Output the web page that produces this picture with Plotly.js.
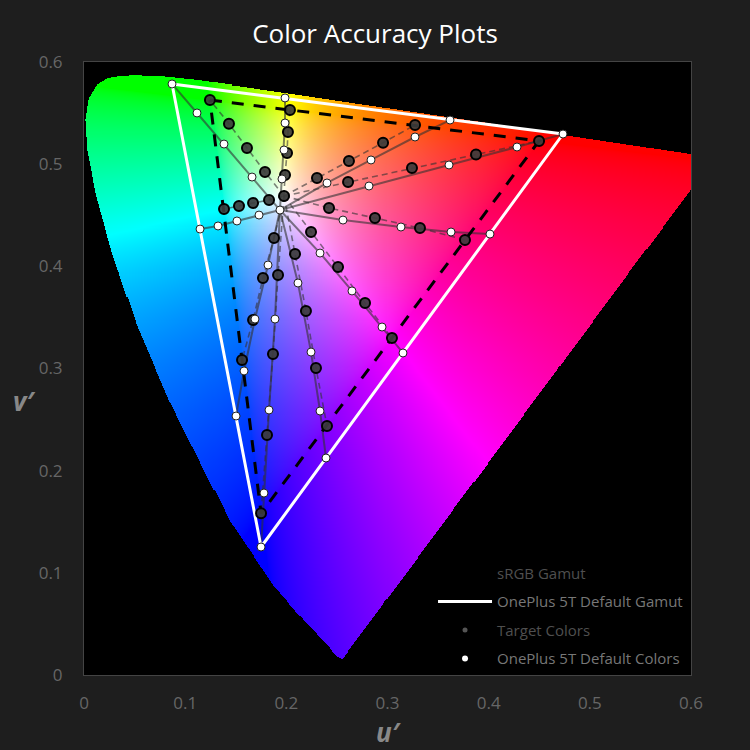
<!DOCTYPE html>
<html><head><meta charset="utf-8">
<script src="https://cdn.plot.ly/plotly-3.0.1.min.js"></script>
<style>html,body{margin:0;padding:0;background:#1e1e1e}#c{width:750px;height:750px}</style>
</head><body><div id="c"></div>
<script>
// Spokes, in order: green, yellow, orange, red, pink, magenta, violet, blue, azure, cyan
const targetWhite=[0.1977,0.4688];
const measuredWhite=[0.1937,0.4551];
const targetU=[
[.1789,.1611,.1433,.1245],[.1987,.2007,.2016,.2036],[.2303,.2619,.2956,.3272],[.2610,.3242,.3875,.4498],[.2422,.2876,.3321,.3766],
[.2244,.2511,.2778,.3044],[.2086,.2194,.2293,.2402],[.1918,.1868,.1809,.1750],[.1878,.1769,.1671,.1562],[.1829,.1671,.1532,.1384]];
const targetV=[
[.4923,.5158,.5396,.5628],[.4894,.5109,.5315,.5530],[.4865,.5031,.5210,.5383],[.4825,.4962,.5095,.5227],[.4571,.4473,.4375,.4258],
[.4336,.3993,.3641,.3298],[.4121,.3563,.3005,.2437],[.3915,.3142,.2349,.1583],[.4277,.3886,.3475,.3083],[.4649,.4620,.4590,.4561]];
const measuredU=[
[.1661,.1384,.1117,.0870],[.1957,.1977,.1987,.1987],[.2402,.2837,.3272,.3618],[.2817,.3608,.4280,.4735],[.2560,.3133,.3628,.4013],
[.2333,.2649,.2946,.3153],[.2115,.2244,.2333,.2392],[.1888,.1829,.1779,.1750],[.1819,.1690,.1582,.1503],[.1730,.1512,.1325,.1147]];
const measuredV=[
[.4874,.5197,.5501,.5785],[.4855,.5139,.5403,.5648],[.4816,.5041,.5266,.5432],[.4786,.4992,.5168,.5295],[.4453,.4385,.4336,.4316],
[.4130,.3759,.3406,.3152],[.3837,.3161,.2584,.2124],[.3484,.2594,.1781,.1253],[.4013,.3484,.2976,.2535],[.4502,.4444,.4395,.4365]];
const srgbU=[.1245,.4498,.1750,.1245];
const srgbV=[.5628,.5227,.1583,.5628];
const gamutU=[.0870,.4735,.1750,.0870];
const gamutV=[.5785,.5295,.1253,.5785];
// Spectral locus outline read as u', v'
const locusU=[.2557,.2522,.2461,.2347,.2161,.1877,.1441,.0828,.0521,.0282,.0119,.0035,.0014,.0046,.0123,.0231,.0360,.0501,.0792,.1127,.1531,.2026,.2623,.3315,.4035,.4692,.5203,.5565,.5830,.6005,.6234];
const locusV=[.0159,.0169,.0226,.0350,.0549,.0871,.1510,.2708,.3427,.4117,.4699,.5131,.5431,.5640,.5770,.5837,.5861,.5868,.5856,.5821,.5766,.5694,.5604,.5501,.5393,.5296,.5219,.5165,.5125,.5099,.5065];
const tickVals=[0,.1,.2,.3,.4,.5,.6];
const tickText=['0','0.1','0.2','0.3','0.4','0.5','0.6'];

function inside(u,v){let c=false;const n=locusU.length;for(let i=0,j=n-1;i<n;j=i++){
 if((locusV[i]>v)!==(locusV[j]>v)&&u<(locusU[j]-locusU[i])*(v-locusV[i])/(locusV[j]-locusV[i])+locusU[i])c=!c;}return c;}
function colour(u,v){const d=6*u-16*v+12,x=9*u/d,y=4*v/d,X=x/y,Z=(1-x-y)/y;
 let r=3.2406*X-1.5372-.4986*Z,g=-.9689*X+1.8758+.0415*Z,b=.0557*X-.2040+1.0570*Z;
 r=Math.max(r,0);g=Math.max(g,0);b=Math.max(b,0);const m=Math.max(r,g,b);
 const f=c=>Math.round(255*Math.pow(c/m,1/1.6));
 return [f(r),f(g),f(b),1];}
const step=.001,rows=[];
for(let j=0;j<600;j++){const row=[],v=(j+.5)*step;for(let i=0;i<600;i++){const u=(i+.5)*step;row.push(inside(u,v)?colour(u,v):[0,0,0,0]);}rows.push(row);}

const spokeColor='rgba(50,50,50,0.6)';
const traces=[{type:'image',z:rows,colormodel:'rgba',x0:step/2,y0:step/2,dx:step,dy:step,hoverinfo:'skip',showlegend:false}];
targetU.forEach((row,i)=>traces.push({type:'scatter',mode:'lines',x:[targetWhite[0],...row],y:[targetWhite[1],...targetV[i]],
 line:{color:spokeColor,width:1.6,dash:'6px,4px'},showlegend:false,hoverinfo:'skip'}));
measuredU.forEach((row,i)=>traces.push({type:'scatter',mode:'lines',x:[measuredWhite[0],...row],y:[measuredWhite[1],...measuredV[i]],
 line:{color:spokeColor,width:2},showlegend:false,hoverinfo:'skip'}));
traces.push({type:'scatter',mode:'lines',name:'<span style="color:#4f4f4f">sRGB Gamut</span>',x:srgbU,y:srgbV,line:{color:'#000',width:3,dash:'12px,10px'},legendgroup:'a'});
traces.push({type:'scatter',mode:'lines',name:'OnePlus 5T Default Gamut',x:gamutU,y:gamutV,line:{color:'#fff',width:3},legendgroup:'b'});
const mk=(a,w)=>a.flat().concat(w);
traces.push({type:'scatter',mode:'markers',x:mk(targetU,targetWhite[0]),y:mk(targetV,targetWhite[1]),showlegend:false,
 marker:{size:10,color:'rgba(60,60,60,0.92)',line:{color:'#000',width:2}}});
traces.push({type:'scatter',mode:'markers',x:mk(measuredU,measuredWhite[0]),y:mk(measuredV,measuredWhite[1]),showlegend:false,
 marker:{size:8,color:'#fff',line:{color:'#222',width:1}}});
traces.push({type:'scatter',mode:'markers',name:'<span style="color:#4f4f4f">Target Colors</span>',x:[null],y:[null],marker:{size:5,color:'#555'},legendgroup:'c'});
traces.push({type:'scatter',mode:'markers',name:'OnePlus 5T Default Colors',x:[null],y:[null],marker:{size:6,color:'#fff'},legendgroup:'d'});

const axis={range:[0,.6],tickmode:'array',tickvals:tickVals,ticktext:tickText,showgrid:false,zeroline:false,showline:true,mirror:true,
 linecolor:'#444',linewidth:1,ticks:'outside',tickcolor:'rgba(0,0,0,0)',tickfont:{family:'Open Sans',size:17,color:'#666'},autorange:false};
Plotly.newPlot('c',traces,{
 width:750,height:750,paper_bgcolor:'#1e1e1e',plot_bgcolor:'#000',
 margin:{l:84,r:59,t:62,b:75},
 title:{text:'Color Accuracy Plots',font:{family:'Open Sans',size:26,color:'#fff'},x:.5,xanchor:'center',y:.955,yanchor:'middle'},
 xaxis:{...axis,ticklen:13,title:{text:'<b><i>u′</i></b>',font:{family:'Open Sans',size:26,color:'#888'},standoff:12}},
 yaxis:{...axis,ticklen:17,scaleanchor:false},
 annotations:[{text:'<b><i>v′</i></b>',xref:'paper',yref:'paper',x:-.121,y:.447,showarrow:false,font:{family:'Open Sans',size:26,color:'#888'}}],
 legend:{x:.575,y:.193,xanchor:'left',yanchor:'top',bgcolor:'rgba(0,0,0,0)',font:{family:'Open Sans',size:15,color:'#777'},
  itemwidth:54,tracegroupgap:6,traceorder:'grouped',itemclick:false,itemdoubleclick:false}
},{displayModeBar:false,staticPlot:true});
</script></body></html>
